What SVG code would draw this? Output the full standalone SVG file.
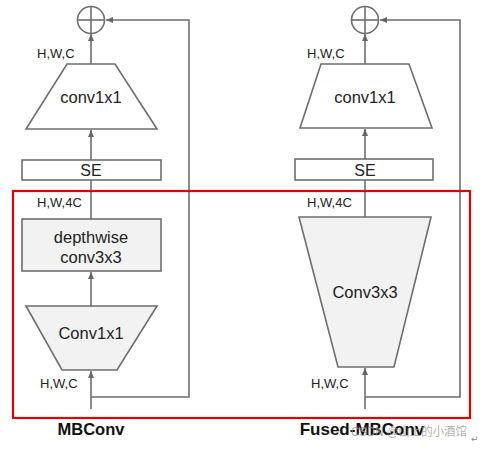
<svg xmlns="http://www.w3.org/2000/svg" width="481" height="449" viewBox="0 0 481 449">
<defs>
<marker id="ah" markerWidth="8" markerHeight="8" refX="7" refY="4" orient="auto" markerUnits="userSpaceOnUse">
<path d="M0,1 L7,4 L0,7 Z" fill="#666"/>
</marker>
</defs>
<style>
.ln{fill:none;stroke:#6e6e6e;stroke-width:1.6}
.sh{stroke:#6e6e6e;stroke-width:1.6}
.w{fill:#fff}
.g{fill:#f2f2f2}
.t{font-family:"Liberation Sans",Arial,sans-serif;fill:#222;text-anchor:middle}
.lab{font-family:"Liberation Sans",Arial,sans-serif;fill:#222;font-size:13px}
.b{font-family:"Liberation Sans",Arial,sans-serif;fill:#111;font-weight:bold;text-anchor:middle}
</style>
<rect width="481" height="449" fill="#fff"/>
<g id="connectors">
<line class="ln" x1="91" y1="64" x2="91" y2="34" marker-end="url(#ah)"/>
<line class="ln" x1="91" y1="160" x2="91" y2="130" marker-end="url(#ah)"/>
<line class="ln" x1="91" y1="219" x2="91" y2="180"/>
<line class="ln" x1="91" y1="306" x2="91" y2="272" marker-end="url(#ah)"/>
<line class="ln" x1="91" y1="409" x2="91" y2="371" marker-end="url(#ah)"/>
<polyline class="ln" points="91,397 189,397 189,20 106,20" marker-end="url(#ah)"/>
<line class="ln" x1="365" y1="64" x2="365" y2="34" marker-end="url(#ah)"/>
<line class="ln" x1="365" y1="160" x2="365" y2="129" marker-end="url(#ah)"/>
<line class="ln" x1="365" y1="217" x2="365" y2="180"/>
<line class="ln" x1="365" y1="409" x2="365" y2="368" marker-end="url(#ah)"/>
<polyline class="ln" points="365,397 460,397 460,20 380,20" marker-end="url(#ah)"/>
</g>
<g id="add1">
<circle class="sh w" cx="91" cy="20" r="13.5"/>
<line class="ln" x1="77.5" y1="20" x2="104.5" y2="20"/>
<line class="ln" x1="91" y1="6.5" x2="91" y2="33.5"/>
</g>
<g id="add2">
<circle class="sh w" cx="365" cy="20" r="13.5"/>
<line class="ln" x1="351.5" y1="20" x2="378.5" y2="20"/>
<line class="ln" x1="365" y1="6.5" x2="365" y2="33.5"/>
</g>
<g id="mb_conv1x1_top">
<polygon class="sh w" points="67,64 115,64 157,129 26,129"/>
<text class="t" x="91" y="103" font-size="16.5">conv1x1</text>
</g>
<g id="mb_se">
<rect class="sh w" x="22" y="160" width="139" height="20"/>
<text class="t" x="91" y="176" font-size="16">SE</text>
</g>
<g id="mb_dw">
<rect class="sh g" x="22" y="219" width="139" height="52"/>
<text class="t" x="91" y="243" font-size="16.5">depthwise</text>
<text class="t" x="91" y="263" font-size="16.5">conv3x3</text>
</g>
<g id="mb_conv1x1_bottom">
<polygon class="sh g" points="26,306 157,306 117,370 62,370"/>
<text class="t" x="91" y="339" font-size="16.5">Conv1x1</text>
</g>
<g id="fused_conv1x1_top">
<polygon class="sh w" points="321,64 409,64 432,128 300,128"/>
<text class="t" x="365" y="103" font-size="16.5">conv1x1</text>
</g>
<g id="fused_se">
<rect class="sh w" x="295" y="159" width="138" height="21"/>
<text class="t" x="365" y="176" font-size="16">SE</text>
</g>
<g id="fused_conv3x3">
<polygon class="sh g" points="299,217 431,217 394,367 338,367"/>
<text class="t" x="365" y="298" font-size="16.5">Conv3x3</text>
</g>
<g id="labels">
<text class="lab" x="37" y="58">H,W,C</text>
<text class="lab" x="37" y="207">H,W,4C</text>
<text class="lab" x="40" y="388">H,W,C</text>
<text class="lab" x="307" y="58">H,W,C</text>
<text class="lab" x="307" y="207">H,W,4C</text>
<text class="lab" x="311" y="388">H,W,C</text>
</g>
<rect x="13" y="191" width="457" height="227" fill="none" stroke="#e00000" stroke-width="2.2"/>
<text class="b" x="91" y="435" font-size="16.5">MBConv</text>
<text class="b" x="362" y="435" font-size="17">Fused-MBConv</text>
<text x="351" y="436" font-family="'Liberation Sans','Noto Sans CJK SC',sans-serif" font-size="12" fill="#999" fill-opacity="0.8" textLength="116" lengthAdjust="spacingAndGlyphs">CSDN @山上的小酒馆</text>
<text x="471" y="442" font-family="'DejaVu Sans',sans-serif" font-size="9" fill="#888">↵</text>
</svg>
